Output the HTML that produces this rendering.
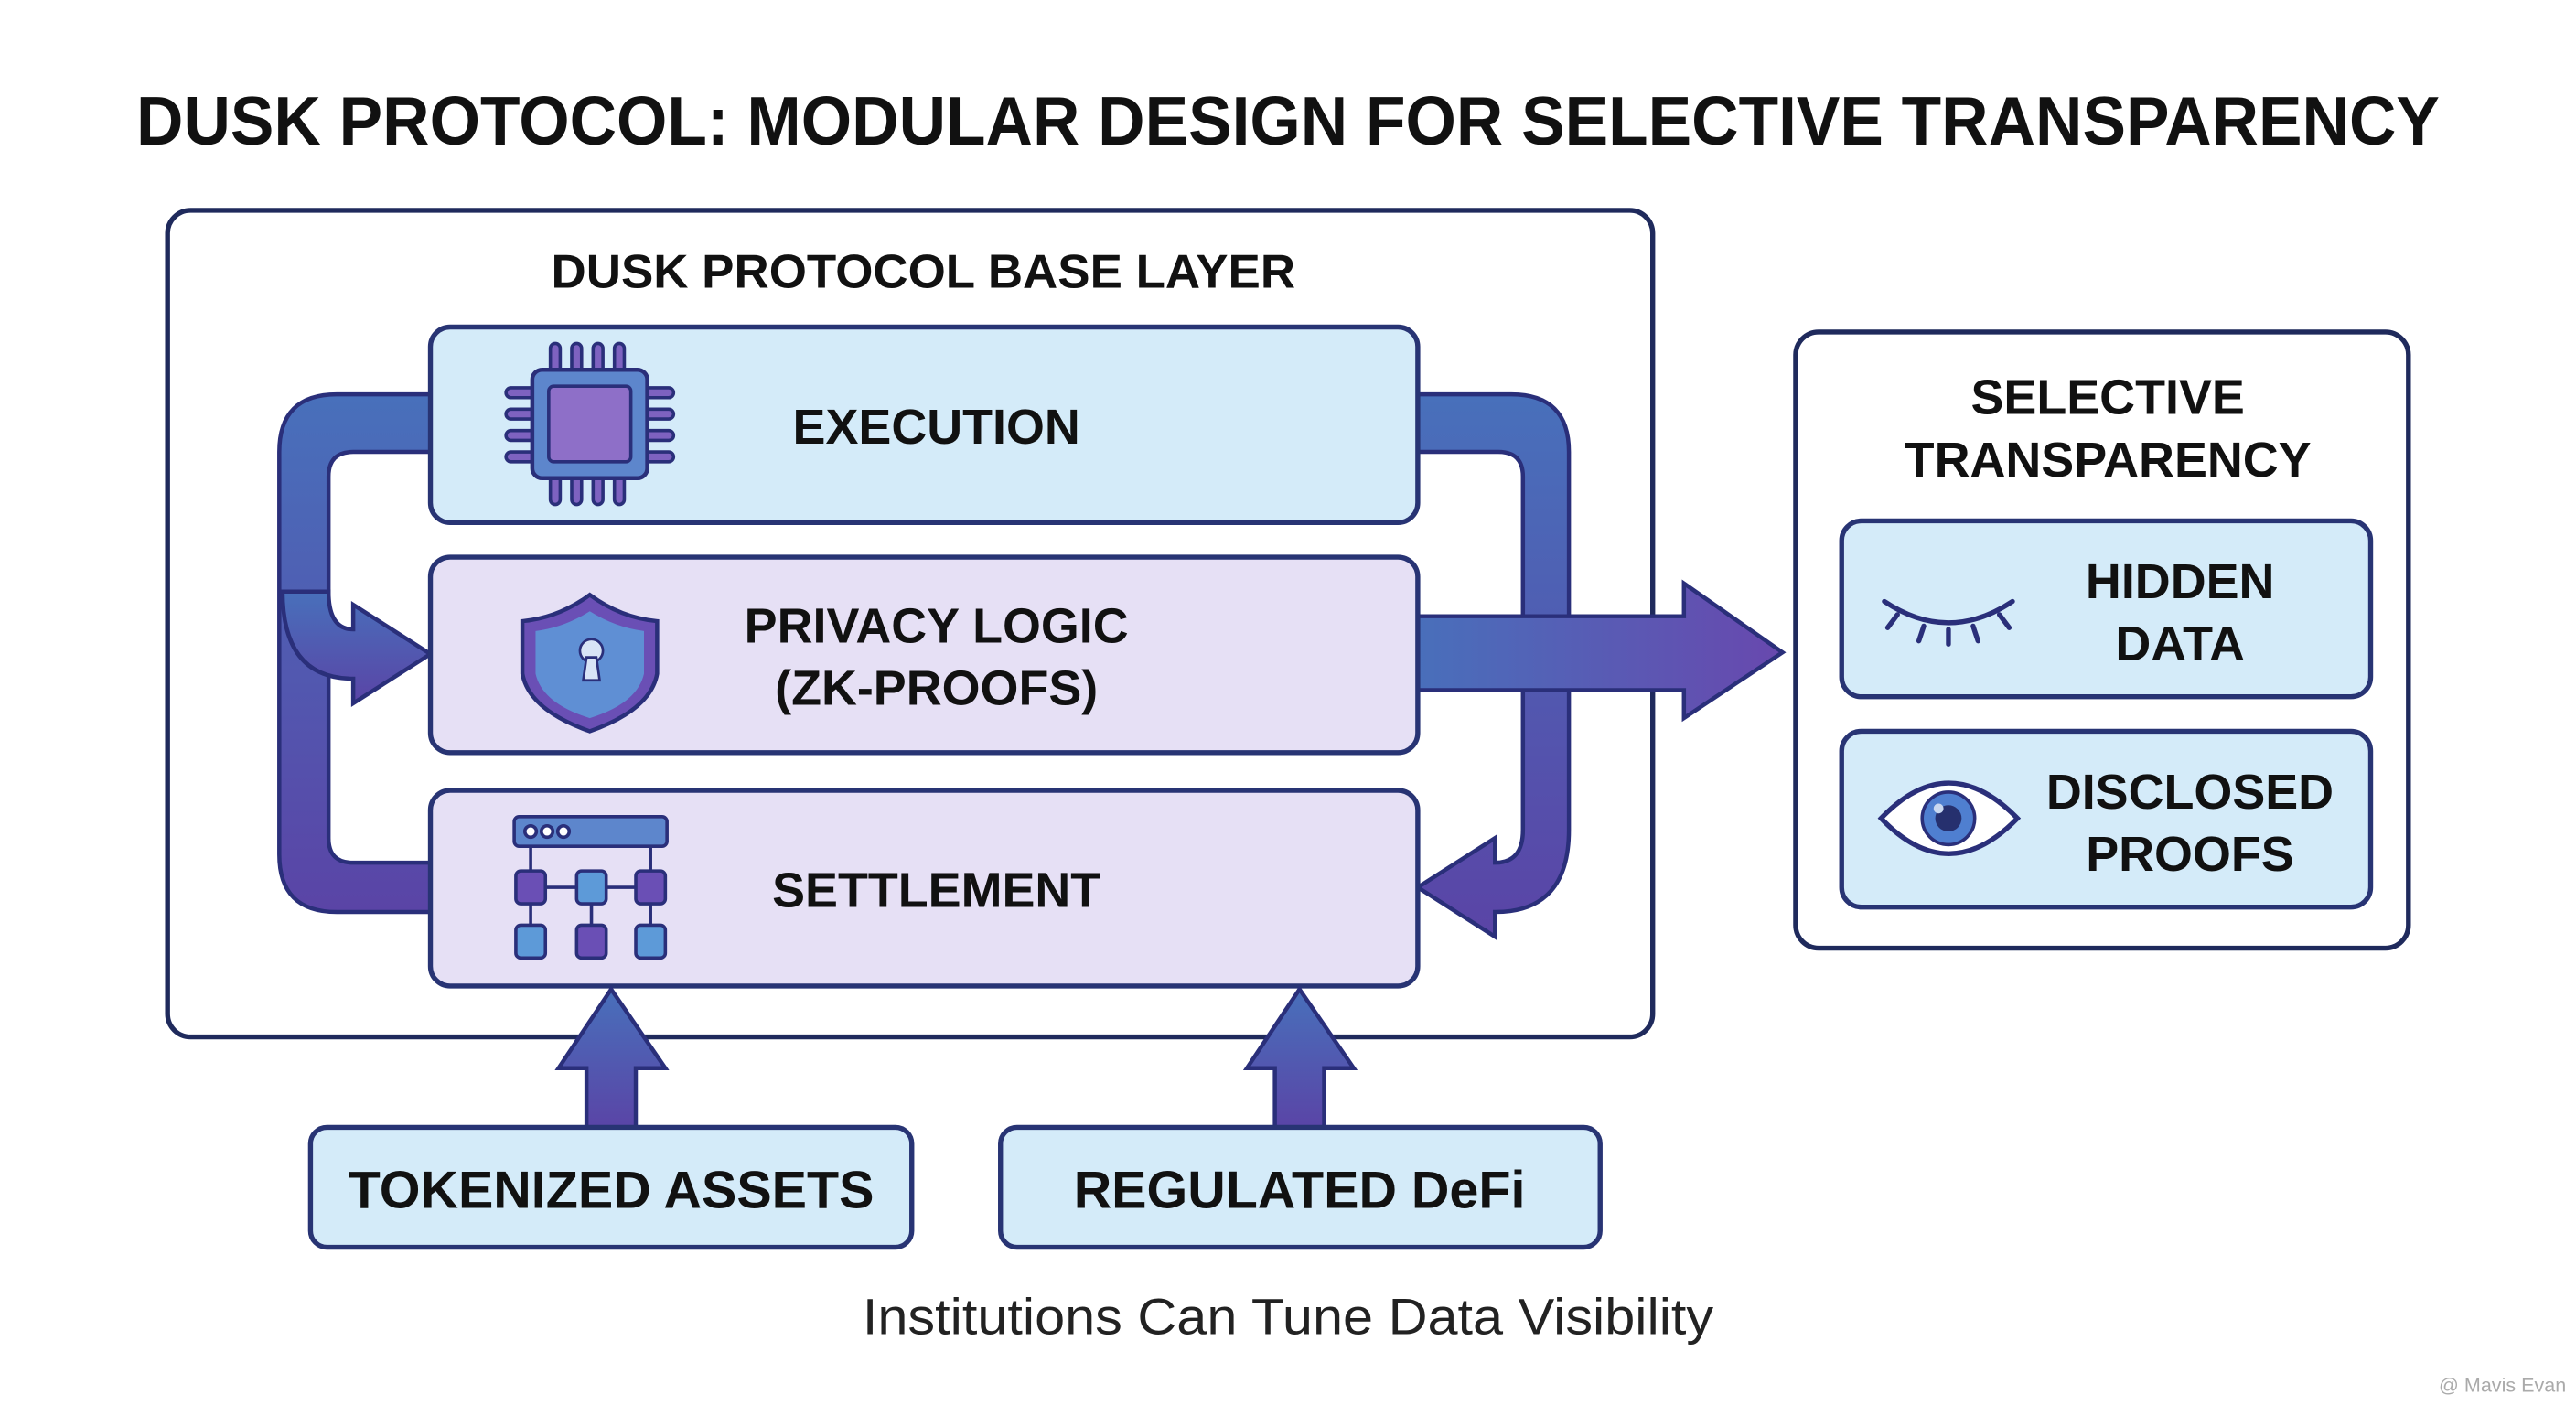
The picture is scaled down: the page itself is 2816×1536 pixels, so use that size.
<!DOCTYPE html>
<html><head><meta charset="utf-8"><style>
html,body{margin:0;padding:0;background:#fff;}
svg{display:block;}
text{font-family:"Liberation Sans",sans-serif;font-weight:bold;fill:#111;}
</style></head><body>
<svg width="2816" height="1536" viewBox="0 0 1568 855" preserveAspectRatio="none" xmlns="http://www.w3.org/2000/svg">
<defs>
<linearGradient id="gv" x1="0" y1="0" x2="0" y2="1"><stop offset="0" stop-color="#4870bb"/><stop offset="1" stop-color="#5a44a6"/></linearGradient>
<linearGradient id="gh" x1="0" y1="0" x2="1" y2="0"><stop offset="0" stop-color="#4870bb"/><stop offset="1" stop-color="#6848ae"/></linearGradient>
</defs>
<rect width="1568" height="855" fill="#fff"/>
<text x="784" y="88" font-size="42" text-anchor="middle" textLength="1402" lengthAdjust="spacingAndGlyphs">DUSK PROTOCOL: MODULAR DESIGN FOR SELECTIVE TRANSPARENCY</text>

<rect x="102" y="128" width="904" height="503" rx="14" fill="#fff" stroke="#1f2a5c" stroke-width="3"/>
<text x="562" y="175" font-size="29" text-anchor="middle" textLength="453" lengthAdjust="spacingAndGlyphs">DUSK PROTOCOL BASE LAYER</text>

<!-- left loop -->
<path d="M268 240 H205 Q170 240 170 275 V520 Q170 555 205 555 H268 V525 H215 Q200 525 200 510 V290 Q200 275 215 275 H268 Z" fill="url(#gv)" stroke="#2a2f7a" stroke-width="2.5"/>
<path d="M172 360 Q172 413 215 413 V428 L262 398 L215 368 V383 Q200 383 200 360 Z" fill="url(#gv)" stroke="#2a2f7a" stroke-width="2.5"/>
<!-- right loop -->
<path d="M858 240 H920 Q955 240 955 275 V505 Q955 555 910 555 V570 L863 540 L910 510 V525 Q927 525 927 505 V290 Q927 275 912 275 H858 Z" fill="url(#gv)" stroke="#2a2f7a" stroke-width="2.5"/>
<!-- big right arrow -->
<path d="M858 375 H1025 V355 L1085 397 L1025 437 V420 H858 Z" fill="url(#gh)" stroke="#2a2f7a" stroke-width="2.5"/>

<!-- boxes -->
<rect x="262" y="199" width="601" height="119" rx="12" fill="#d4ebf9" stroke="#283474" stroke-width="3"/>
<rect x="262" y="339" width="601" height="119" rx="12" fill="#e6e0f5" stroke="#283474" stroke-width="3"/>
<rect x="262" y="481" width="601" height="119" rx="12" fill="#e6e0f5" stroke="#283474" stroke-width="3"/>
<text x="570" y="270" font-size="30" text-anchor="middle">EXECUTION</text>
<text x="570" y="391" font-size="30" text-anchor="middle">PRIVACY LOGIC</text>
<text x="570" y="429" font-size="30" text-anchor="middle">(ZK-PROOFS)</text>
<text x="570" y="552" font-size="30" text-anchor="middle">SETTLEMENT</text>

<!-- chip icon -->
<g stroke="#2a2f7a" stroke-width="2" fill="#7e62c0">
<rect x="335" y="209" width="6" height="20" rx="3"/><rect x="348" y="209" width="6" height="20" rx="3"/><rect x="361" y="209" width="6" height="20" rx="3"/><rect x="374" y="209" width="6" height="20" rx="3"/>
<rect x="335" y="287" width="6" height="20" rx="3"/><rect x="348" y="287" width="6" height="20" rx="3"/><rect x="361" y="287" width="6" height="20" rx="3"/><rect x="374" y="287" width="6" height="20" rx="3"/>
<rect x="308" y="236" width="20" height="6" rx="3"/><rect x="308" y="249" width="20" height="6" rx="3"/><rect x="308" y="262" width="20" height="6" rx="3"/><rect x="308" y="275" width="20" height="6" rx="3"/>
<rect x="390" y="236" width="20" height="6" rx="3"/><rect x="390" y="249" width="20" height="6" rx="3"/><rect x="390" y="262" width="20" height="6" rx="3"/><rect x="390" y="275" width="20" height="6" rx="3"/>
<rect x="324" y="225" width="70" height="66" rx="6" fill="#5d86cc" stroke-width="2.5"/>
<rect x="334" y="235" width="50" height="46" rx="3" fill="#8e6fc8"/>
</g>
<!-- shield -->
<path d="M359 362 Q378 376 400 378 V410 Q396 432 359 445 Q322 432 318 410 V378 Q340 376 359 362 Z" fill="#6a4fb5" stroke="#2a2f7a" stroke-width="2.5"/>
<path d="M359 372 Q375 382 392 384 V410 Q388 428 359 437 Q330 428 326 410 V384 Q343 382 359 372 Z" fill="#5f8fd4"/>
<circle cx="360" cy="396" r="7" fill="#d8e4f6" stroke="#2a2f7a" stroke-width="1.5"/>
<path d="M357 400 L355 414 H365 L363 400 Z" fill="#d8e4f6" stroke="#2a2f7a" stroke-width="1.5"/>
<!-- tree icon -->
<g stroke="#2a2f7a" stroke-width="2">
<line x1="323" y1="515" x2="323" y2="575"/><line x1="396" y1="515" x2="396" y2="575"/>
<line x1="323" y1="540" x2="396" y2="540"/><line x1="360" y1="540" x2="360" y2="575"/>
<rect x="313" y="497" width="93" height="18" rx="3" fill="#5d86cc"/>
<circle cx="323" cy="506" r="3.5" fill="#fff"/><circle cx="333" cy="506" r="3.5" fill="#fff"/><circle cx="343" cy="506" r="3.5" fill="#fff"/>
<rect x="314" y="530" width="18" height="20" rx="3" fill="#6a4fb5"/><rect x="351" y="530" width="18" height="20" rx="3" fill="#5d9ad8"/><rect x="387" y="530" width="18" height="20" rx="3" fill="#6a4fb5"/>
<rect x="314" y="563" width="18" height="20" rx="3" fill="#5d9ad8"/><rect x="351" y="563" width="18" height="20" rx="3" fill="#6a4fb5"/><rect x="387" y="563" width="18" height="20" rx="3" fill="#5d9ad8"/>
</g>

<!-- right panel -->
<rect x="1093" y="202" width="373" height="375" rx="14" fill="#fff" stroke="#1f2a5c" stroke-width="3"/>
<text x="1283" y="252" font-size="30" text-anchor="middle">SELECTIVE</text>
<text x="1283" y="290" font-size="30" text-anchor="middle">TRANSPARENCY</text>
<rect x="1121" y="317" width="322" height="107" rx="12" fill="#d4ebf9" stroke="#283474" stroke-width="3"/>
<rect x="1121" y="445" width="322" height="107" rx="12" fill="#d4ebf9" stroke="#283474" stroke-width="3"/>
<text x="1327" y="364" font-size="30" text-anchor="middle">HIDDEN</text>
<text x="1327" y="402" font-size="30" text-anchor="middle">DATA</text>
<text x="1333" y="492" font-size="30" text-anchor="middle">DISCLOSED</text>
<text x="1333" y="530" font-size="30" text-anchor="middle">PROOFS</text>
<g stroke="#2a2f7a" stroke-width="3" fill="none" stroke-linecap="round">
<path d="M1147 366 Q1186 392 1225 366"/>
<line x1="1155" y1="374" x2="1149" y2="382"/><line x1="1171" y1="381" x2="1168" y2="390"/><line x1="1186" y1="383" x2="1186" y2="392"/><line x1="1201" y1="381" x2="1204" y2="390"/><line x1="1217" y1="374" x2="1223" y2="382"/>
</g>
<path d="M1145 498 Q1186 455 1228 498 Q1186 541 1145 498 Z" fill="#fff" stroke="#2a2f7a" stroke-width="3"/>
<circle cx="1186" cy="498" r="16" fill="#4f7fd0" stroke="#2a2f7a" stroke-width="2"/>
<circle cx="1186" cy="498" r="8" fill="#26306e"/>
<circle cx="1180" cy="492" r="3" fill="#c9d8f0"/>

<!-- up arrows -->
<path d="M357 687 V650 H340 L372 602 L405 650 H387 V687 Z" fill="url(#gv)" stroke="#2a2f7a" stroke-width="2.5"/>
<path d="M776 687 V650 H759 L791 602 L824 650 H806 V687 Z" fill="url(#gv)" stroke="#2a2f7a" stroke-width="2.5"/>
<rect x="189" y="686" width="366" height="73" rx="10" fill="#d4ebf9" stroke="#283474" stroke-width="3"/>
<rect x="609" y="686" width="365" height="73" rx="10" fill="#d4ebf9" stroke="#283474" stroke-width="3"/>
<text x="372" y="735" font-size="32" text-anchor="middle">TOKENIZED ASSETS</text>
<text x="791" y="735" font-size="32" text-anchor="middle">REGULATED DeFi</text>

<text x="784" y="812" font-size="31" text-anchor="middle" textLength="518" lengthAdjust="spacingAndGlyphs" style="font-weight:normal;fill:#222">Institutions Can Tune Data Visibility</text>
<text x="1562" y="847" font-size="12" text-anchor="end" style="font-weight:normal;fill:#aaa">@ Mavis Evan</text>
</svg>
</body></html>
